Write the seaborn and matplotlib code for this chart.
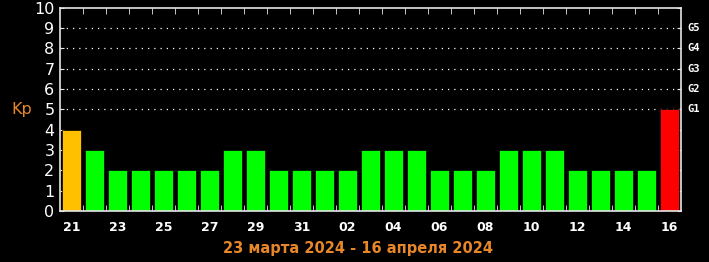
import matplotlib
matplotlib.use("Agg")
import matplotlib.pyplot as plt
import seaborn as sns
import pandas as pd
import numpy as np

days = ["21", "22", "23", "24", "25", "26", "27", "28", "29", "30", "31",
        "01", "02", "03", "04", "05", "06", "07", "08", "09", "10", "11",
        "12", "13", "14", "15", "16"]
kp = [4, 3, 2, 2, 2, 2, 2, 3, 3, 2, 2, 2, 2, 3, 3, 3, 2, 2, 2, 3, 3, 3, 2, 2, 2, 2, 5]
g_labels = ["G1", "G2", "G3", "G4", "G5"]
title = "23 марта 2024 - 16 апреля 2024"


def colour(v):
    if v >= 5:
        return "#FF0000"
    if v == 4:
        return "#FFC000"
    return "#00FF00"


df = pd.DataFrame({"day": days, "kp": kp})
palette = [colour(v) for v in kp]

sns.set_style("dark")
fig = plt.figure(figsize=(7.09, 2.62), dpi=100, facecolor="black")
ax = fig.add_axes([60 / 709, 1 - 211 / 262, 621 / 709, (211 - 7.5) / 262])
ax.set_facecolor("black")

sns.barplot(data=df, x="day", y="kp", hue="day", palette=palette, legend=False,
            width=0.82, edgecolor="black", linewidth=0.5, saturation=1, ax=ax)

ax.set_xlim(-0.5, len(days) - 0.5)
ax.set_ylim(0, 10)
ax.grid(False)
for y in range(5, 10):
    ax.axhline(y, color="white", linestyle=(0, (1, 4)), linewidth=0.9, zorder=0)

for s in ax.spines.values():
    s.set_color("#E6E6E6")
    s.set_linewidth(1.2)
    s.set_visible(True)

# y ticks
ax.set_yticks(range(0, 11))
ax.set_yticklabels([str(i) for i in range(0, 11)], color="white", fontsize=11.5)
ax.tick_params(axis="y", which="major", direction="in", length=3, color="#E6E6E6",
               left=True, right=True, pad=4)

# x tick labels every other day
xt = list(range(0, len(days), 2))
ax.set_xticks(xt)
ax.set_xticklabels([days[i] for i in xt], color="white", fontsize=9, fontweight="bold")
ax.tick_params(axis="x", which="major", length=0, pad=7)
ax.set_xticks(np.arange(0.5, len(days) - 1, 1), minor=True)
ax.tick_params(axis="x", which="minor", direction="in", length=4, color="#E6E6E6",
               top=True, bottom=True)
ax.set_xlabel("")
ax.set_ylabel("")

# G labels on right
for i, g in enumerate(g_labels):
    ax.text(1.010, 5 + i, g, transform=ax.get_yaxis_transform(), color="white",
            fontsize=7.5, fontweight="bold", va="center", ha="left", family="DejaVu Sans Mono")

fig.text(22 / 709, 1 - 110 / 262, "Kp", color="#E8862A", fontsize=11.5, ha="center", va="center")
fig.text(358 / 709, 1 - 249 / 262, title, color="#E8862A", fontsize=10.5,
         fontweight="bold", ha="center", va="center")

fig.savefig("out.png", dpi=100, facecolor="black")
